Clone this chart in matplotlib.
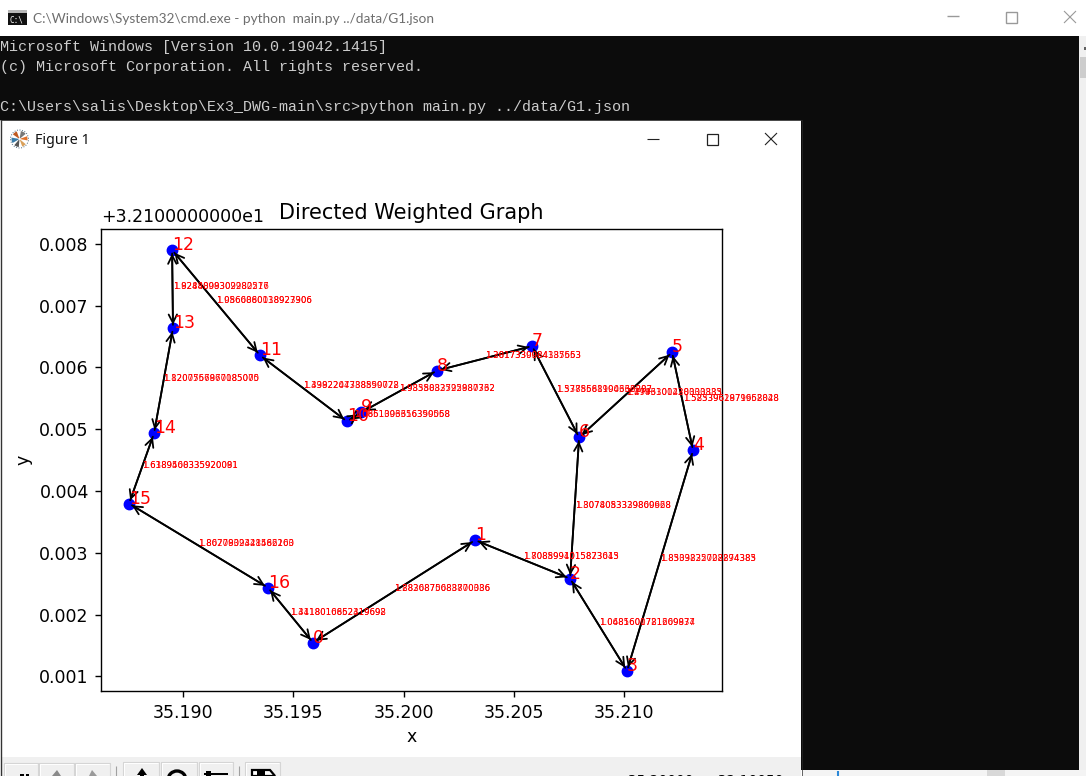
import matplotlib
matplotlib.use("Agg")
import matplotlib.pyplot as plt
from matplotlib.patches import Rectangle, Circle, Wedge, Polygon
from matplotlib.ticker import FormatStrFormatter, ScalarFormatter

# ---- chart data ----
node_ids = list(range(17))
node_x = [35.19590, 35.20324, 35.20754, 35.21012, 35.21311, 35.21216, 35.20795, 35.20582, 35.20152,
          35.19808, 35.19744, 35.19350, 35.18952, 35.18956, 35.18870, 35.18757, 35.19386]
node_y = [32.101545, 32.103204, 32.102582, 32.101090, 32.104656, 32.106245, 32.104867, 32.106346, 32.105950,
          32.105272, 32.105126, 32.106196, 32.107902, 32.106634, 32.104932, 32.103797, 32.102436]
edge_a = [0, 0, 1, 2, 2, 3, 4, 5, 6, 7, 8, 9, 10, 11, 12, 13, 14, 15]
edge_b = [16, 1, 2, 3, 6, 4, 5, 6, 7, 8, 9, 10, 11, 12, 13, 14, 15, 16]
weight_ab = ["1.3418016862319698", "1.2826875088700386", "1.8085994015823643", "1.0685600781269874",
             "1.8078083339809628", "1.8539825028294383", "1.5833961879658028", "1.4943100230303885",
             "1.3378568190636287", "1.2817339084385653", "1.9358832592887362", "1.0651096356390568",
             "1.3982204738859072", "1.0866080018923906", "1.8284809309282576", "1.8200756967085070",
             "1.6389508335920081", "1.8027809321486260"]
weight_ba = ["1.4118010652419692", "1.8830870683870036", "1.7088991015873015", "1.0481601721609937",
             "1.3074053329860968", "1.8303232702874385", "1.5253962971962848", "1.2796301428030333",
             "1.5785681904362802", "1.3017330984137563", "1.9835083725980732", "1.0861303616359058",
             "1.4392247388590728", "1.9560860138927306", "1.9248098302980217", "1.1207567870185005",
             "1.6189460335920091", "1.8670932448562103"]
xticks = [35.190, 35.195, 35.200, 35.205, 35.210]
yticks = [32.101, 32.102, 32.103, 32.104, 32.105, 32.106, 32.107, 32.108]

W, H = 1086, 776
fig = plt.figure(figsize=(W / 100, H / 100), dpi=100, facecolor="white")

# ---- screenshot surroundings, in pixel coordinates ----
bg = fig.add_axes([0, 0, 1, 1], zorder=0)
bg.set_xlim(0, W)
bg.set_ylim(H, 0)
bg.axis("off")


def box(x0, y0, x1, y1, fc, ec="none", lw=0, z=1):
    bg.add_patch(Rectangle((x0, y0), x1 - x0, y1 - y0, facecolor=fc, edgecolor=ec, linewidth=lw, zorder=z))


def seg(xs, ys, c, lw=1.0, z=3):
    bg.plot(xs, ys, color=c, lw=lw, solid_capstyle="butt", zorder=z)


# console window
box(0, 36, 1079, 770, "#0c0c0c")
box(1079, 36, 1086, 776, "#f0f0f0")
box(1080, 57, 1086, 78, "#cdcdcd")
box(1084, 47, 1086, 50, "#606060")
box(802, 770, 1086, 776, "#f4f4f4")
box(987, 770, 1005, 776, "#d8d8d8")
seg([838, 838], [771, 776], "#2b88d8", 1.5)

# console title bar
box(8, 10, 27, 25, "#111111")
box(8, 10, 27, 13, "#b8b8b8")
bg.text(9.5, 22.5, "C:\\", color="white", fontsize=5.5, family="DejaVu Sans Mono", zorder=4)
bg.text(33, 23, "C:\\Windows\\System32\\cmd.exe - python  main.py ../data/G1.json", color="#6e6e6e",
        fontsize=9.85, family="Lato", zorder=4)
seg([947, 959], [16, 16], "#999999", 1.0)
bg.add_patch(Rectangle((1005.5, 11.5), 11, 11, fc="none", ec="#999999", lw=1.0, zorder=3))
seg([1064, 1076], [11, 23], "#999999", 0.8)
seg([1064, 1076], [23, 11], "#999999", 0.8)

# console text
for yy, line in [(51, "Microsoft Windows [Version 10.0.19042.1415]"),
                 (71, "(c) Microsoft Corporation. All rights reserved."),
                 (111, "C:\\Users\\salis\\Desktop\\Ex3_DWG-main\\src>python main.py ../data/G1.json")]:
    bg.text(0, yy, line, color="#cccccc", fontsize=10.77, family="Liberation Mono", zorder=4)

# figure window
box(0, 120, 801, 776, "white", z=2)
seg([0.5, 0.5], [120, 776], "#333333", 1.0)
seg([0, 802], [119.7, 119.7], "#2a2a2a", 0.6)
seg([801.5, 801.5], [120, 776], "#2a2a2a", 0.5)
bg.text(35, 144, "Figure 1", color="#111111", fontsize=10.3, family="Noto Sans", zorder=4)
bg.add_patch(Circle((19.5, 139), 9, fc="white", ec="#4a6a80", lw=0.7, ls=":", zorder=3))
for t1, t2, c in [(-20, 10, "#e0702a"), (40, 70, "#d9a05a"), (95, 130, "#555555"),
                  (150, 190, "#3a7ca8"), (215, 250, "#c05a20"), (280, 320, "#777777")]:
    bg.add_patch(Wedge((19.5, 139), 8, t1, t2, width=7, fc=c, ec="none", zorder=4))
seg([647, 659], [138.5, 138.5], "#222222", 0.8)
bg.add_patch(Rectangle((706.5, 133.5), 11, 11, fc="none", ec="#222222", lw=0.9, zorder=3))
seg([765, 777], [133, 145], "#222222", 0.8)
seg([765, 777], [145, 133], "#222222", 0.8)

# toolbar
box(1, 757, 801, 776, "#f0f0f0", z=2)
for x0, x1, y0 in [(4, 38, 763), (39, 74, 763), (75, 110, 763), (123, 159, 762), (161, 197, 762),
                   (199, 233, 762), (245, 280, 762)]:
    seg([x0, x0, x1, x1], [776, y0, y0, 776], "#d5d5d5", 0.8)
    seg([x0 + 1, x0 + 1, x1 - 1], [776, y0 + 1, y0 + 1], "white", 0.7)
for xs in (116, 239):
    seg([xs, xs], [766, 776], "#a0a0a0", 0.8)
bg.add_patch(Polygon([[137, 775], [142, 768], [147, 775]], fc="black", ec="none", zorder=4))
box(140, 774, 144, 776, "black", z=4)
bg.add_patch(Circle((177, 780), 9, fc="none", ec="black", lw=2.4, zorder=4))
box(204, 773, 228, 775, "black", z=4)
box(206, 771, 211, 776, "black", z=4)
bg.add_patch(Polygon([[252, 776], [252, 770], [270, 770], [275, 776]], fc="white", ec="black", lw=1.6, zorder=4))
box(257, 771, 265, 776, "black", z=4)
box(20, 774, 24, 776, "black", z=4)
box(26, 774, 29, 776, "black", z=4)
bg.add_patch(Polygon([[52, 776], [57, 770], [61, 776]], fc="#8a8a8a", ec="none", zorder=4))
bg.add_patch(Polygon([[89, 776], [92, 770], [97, 776]], fc="#9a9a9a", ec="none", zorder=4))
bg.text(784, 773.5, "x=35.20000 y=32.10050", color="black", fontsize=10, ha="right", va="top", zorder=4)

# ---- the chart itself ----
left, right, top, bottom = 101.0, 722.0, 229.3, 691.3
ax = fig.add_axes([left / W, 1 - bottom / H, (right - left) / W, (bottom - top) / H], zorder=2)
ax.patch.set_alpha(0)
ax.set_xlim(35.1863, 35.21442)
ax.set_ylim(32.100757, 32.108237)

ax.plot(node_x, node_y, "o", color="blue", ms=7.5, zorder=2)
for a, b, wab, wba in zip(edge_a, edge_b, weight_ab, weight_ba):
    for s, d, w in ((a, b, wab), (b, a, wba)):
        ax.annotate("", xy=(node_x[d], node_y[d]), xytext=(node_x[s], node_y[s]),
                    arrowprops=dict(arrowstyle="->", color="black", lw=1.3, mutation_scale=15,
                                    shrinkA=2.5, shrinkB=2.5))
        ax.text((node_x[s] + node_x[d]) / 2, (node_y[s] + node_y[d]) / 2, w, color="red", fontsize=6.25, zorder=4)
for i, x, y in zip(node_ids, node_x, node_y):
    ax.text(x, y, str(i), color="red", fontsize=12.5, zorder=5)

ax.set_xticks(xticks)
ax.set_yticks(yticks)
ax.xaxis.set_major_formatter(FormatStrFormatter("%.3f"))
fmt = ScalarFormatter(useOffset=32.1)
fmt.set_scientific(False)
ax.yaxis.set_major_formatter(fmt)
ax.yaxis.get_offset_text().set_visible(False)
ax.text(0.0, 1.008, "+3.2100000000e1", transform=ax.transAxes, fontsize=12.5, va="bottom", ha="left")
ax.tick_params(labelsize=12.5, width=1.0, length=4.4, pad=4.4)
for sp in ax.spines.values():
    sp.set_linewidth(1.0)
ax.set_title("Directed Weighted Graph", fontsize=15, pad=7.5)
ax.set_xlabel("x", fontsize=12.5, labelpad=5)
ax.set_ylabel("y", fontsize=12.5, labelpad=5)

fig.savefig("out.png", dpi=100)
